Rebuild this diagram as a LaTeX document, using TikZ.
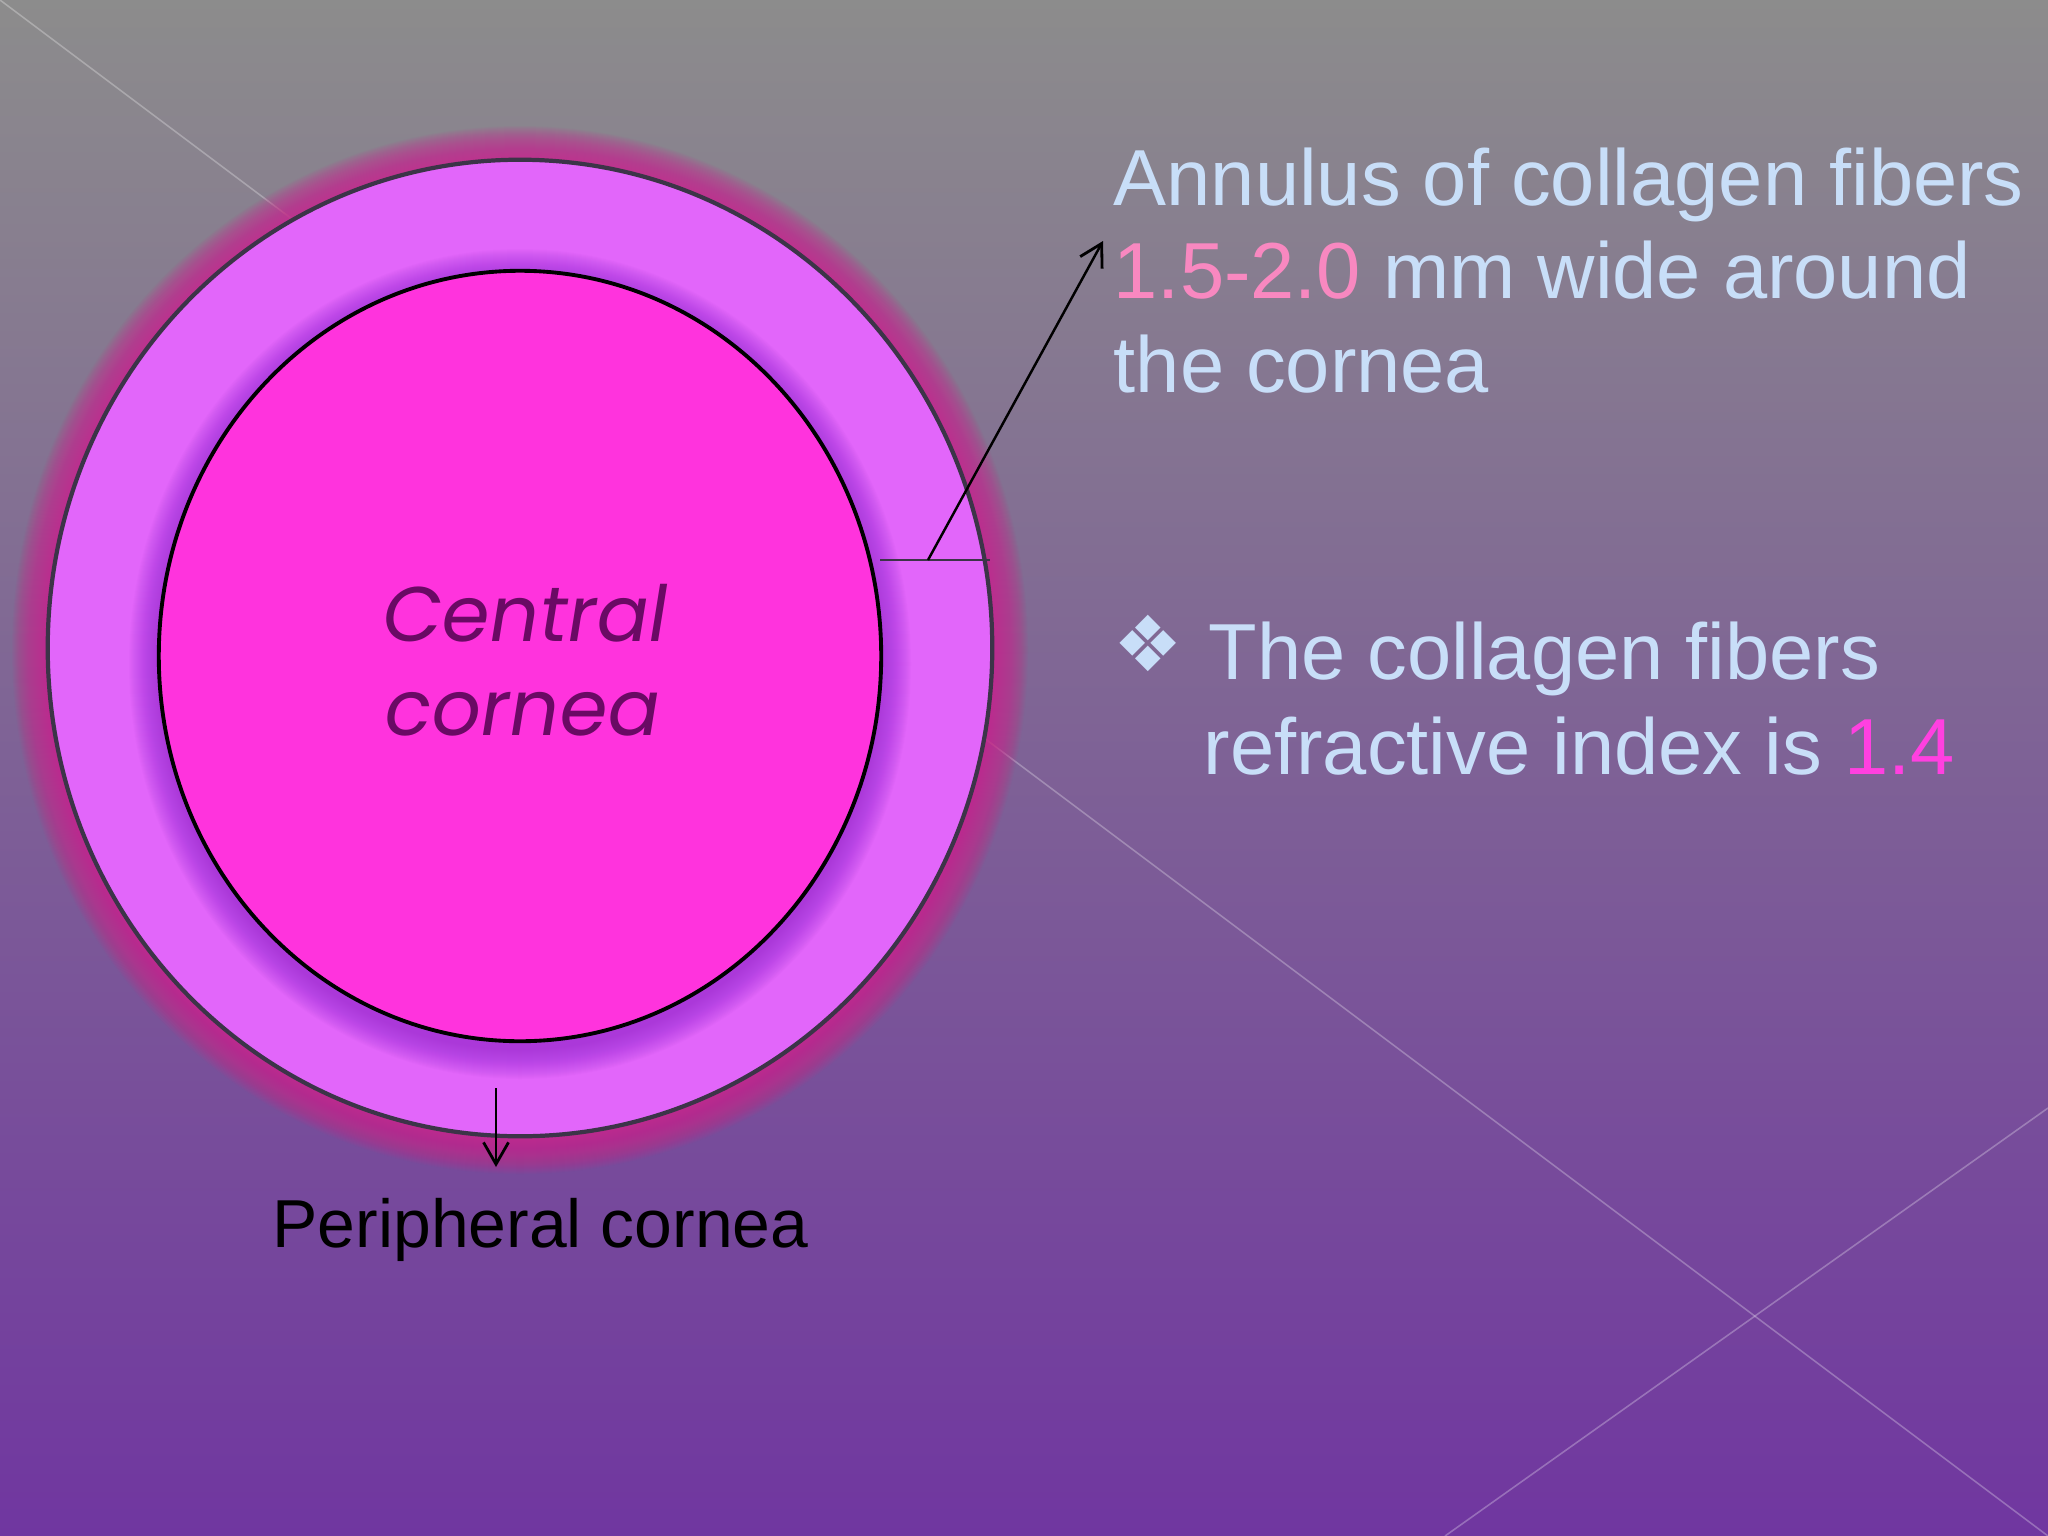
\documentclass[tikz,border=0pt]{standalone}
\usepackage{fontspec}
\setmainfont{Liberation Sans}
\newfontfamily\gothic{Poppins}[FakeSlant=0.16]
\newfontfamily\dejavu{DejaVu Sans}
\usetikzlibrary{arrows.meta}
\definecolor{bgtop}{HTML}{8C8C8C}
\definecolor{bgbot}{HTML}{7036A0}
\definecolor{glowc}{HTML}{D02A8E}
\definecolor{annc}{HTML}{E266FA}
\definecolor{shadc}{HTML}{9A2CD8}
\definecolor{corec}{HTML}{FF33DD}
\definecolor{ctext}{HTML}{6A0A64}
\definecolor{lblue}{HTML}{C8DEF8}
\definecolor{lpink}{HTML}{F888C0}
\definecolor{mag}{HTML}{FF40E0}
\definecolor{rimc}{HTML}{3C3448}
\begin{document}
\begin{tikzpicture}[x=0.01cm,y=-0.01cm,
  bigtxt/.style={anchor=base west, inner sep=0pt, font=\fontsize{22.6pt}{26.7pt}\selectfont, text=lblue},
  coretxt/.style={anchor=base, inner sep=0pt, font=\gothic\fontsize{22pt}{26pt}\selectfont, text=ctext},
  decoline/.style={draw=white, draw opacity=0.28, line width=0.45pt},
  pointer/.style={draw=black, line width=0.7pt, -{Straight Barb[length=6.2pt,width=7.1pt,line width=0.8pt]}},
  tickline/.style={draw=rimc, line width=0.55pt}]
\useasboundingbox (0,0) rectangle (2048,1536);
\shade[top color=bgtop,bottom color=bgbot] (0,0) rectangle (2048,1536);
% decorative diagonals
\coordinate (d1a) at (0,0);
\coordinate (d1b) at (2048,1536);
\coordinate (d2a) at (2048,1108);
\coordinate (d2b) at (1445,1536);
\draw[decoline] (d1a) -- (d1b);
\draw[decoline] (d2a) -- (d2b);
% outer glow
\foreach \k in {1,...,36}{
  \fill[glowc, opacity=0.05] (520,650) ellipse [x radius={(472+\k)*0.01cm}, y radius={(488+\k)*0.01cm}];
}
% annulus
\fill[annc] (520,648) ellipse [x radius=4.72cm, y radius=4.88cm];
% inner shadow
\foreach \k in {1,...,30}{
  \fill[shadc, opacity=0.035] (520,664) ellipse [x radius={(361+\k)*0.01cm}, y radius={(385+\k)*0.01cm}];
}
\draw[rimc, line width=1.2pt] (520,648) ellipse [x radius=4.72cm, y radius=4.88cm];
% central cornea
\fill[corec] (520,656) ellipse [x radius=3.61cm, y radius=3.85cm];
\draw[black, line width=1.1pt] (520,656) ellipse [x radius=3.61cm, y radius=3.85cm];
\node[coretxt] (c1) at (522,641) {Central};
\node[coretxt] (c2) at (519,735) {cornea};
% annulus pointer
\coordinate (hlL) at (880,560);
\coordinate (hlR) at (990,560);
\coordinate (aS) at (928,560);
\coordinate (aT) at (1103,241);
\draw[tickline] (hlL) -- (hlR);
\draw[pointer] (aS) -- (aT);
% peripheral pointer
\coordinate (bS) at (496,1088);
\coordinate (bT) at (496,1167);
\draw[pointer] (bS) -- (bT);
\node[anchor=base west, inner sep=0pt, font=\fontsize{19.3pt}{23pt}\selectfont, text=black] (per) at (272,1247) {Peripheral cornea};
% right text
\node[bigtxt] (t1) at (1113,205) {Annulus of collagen fibers};
\node[bigtxt] (t2) at (1113,298) {\textcolor{lpink}{1.5-2.0} mm wide around};
\node[bigtxt] (t3) at (1113,392) {the cornea};
\node[text=lblue, inner sep=0pt, font=\dejavu\fontsize{22pt}{22pt}\selectfont] (bul) at (1148,643) {❖};
\node[bigtxt] (t4) at (1208,679) {The collagen fibers};
\node[bigtxt] (t5) at (1203,774) {refractive index is \textcolor{mag}{1.4}};
\end{tikzpicture}
\end{document}
